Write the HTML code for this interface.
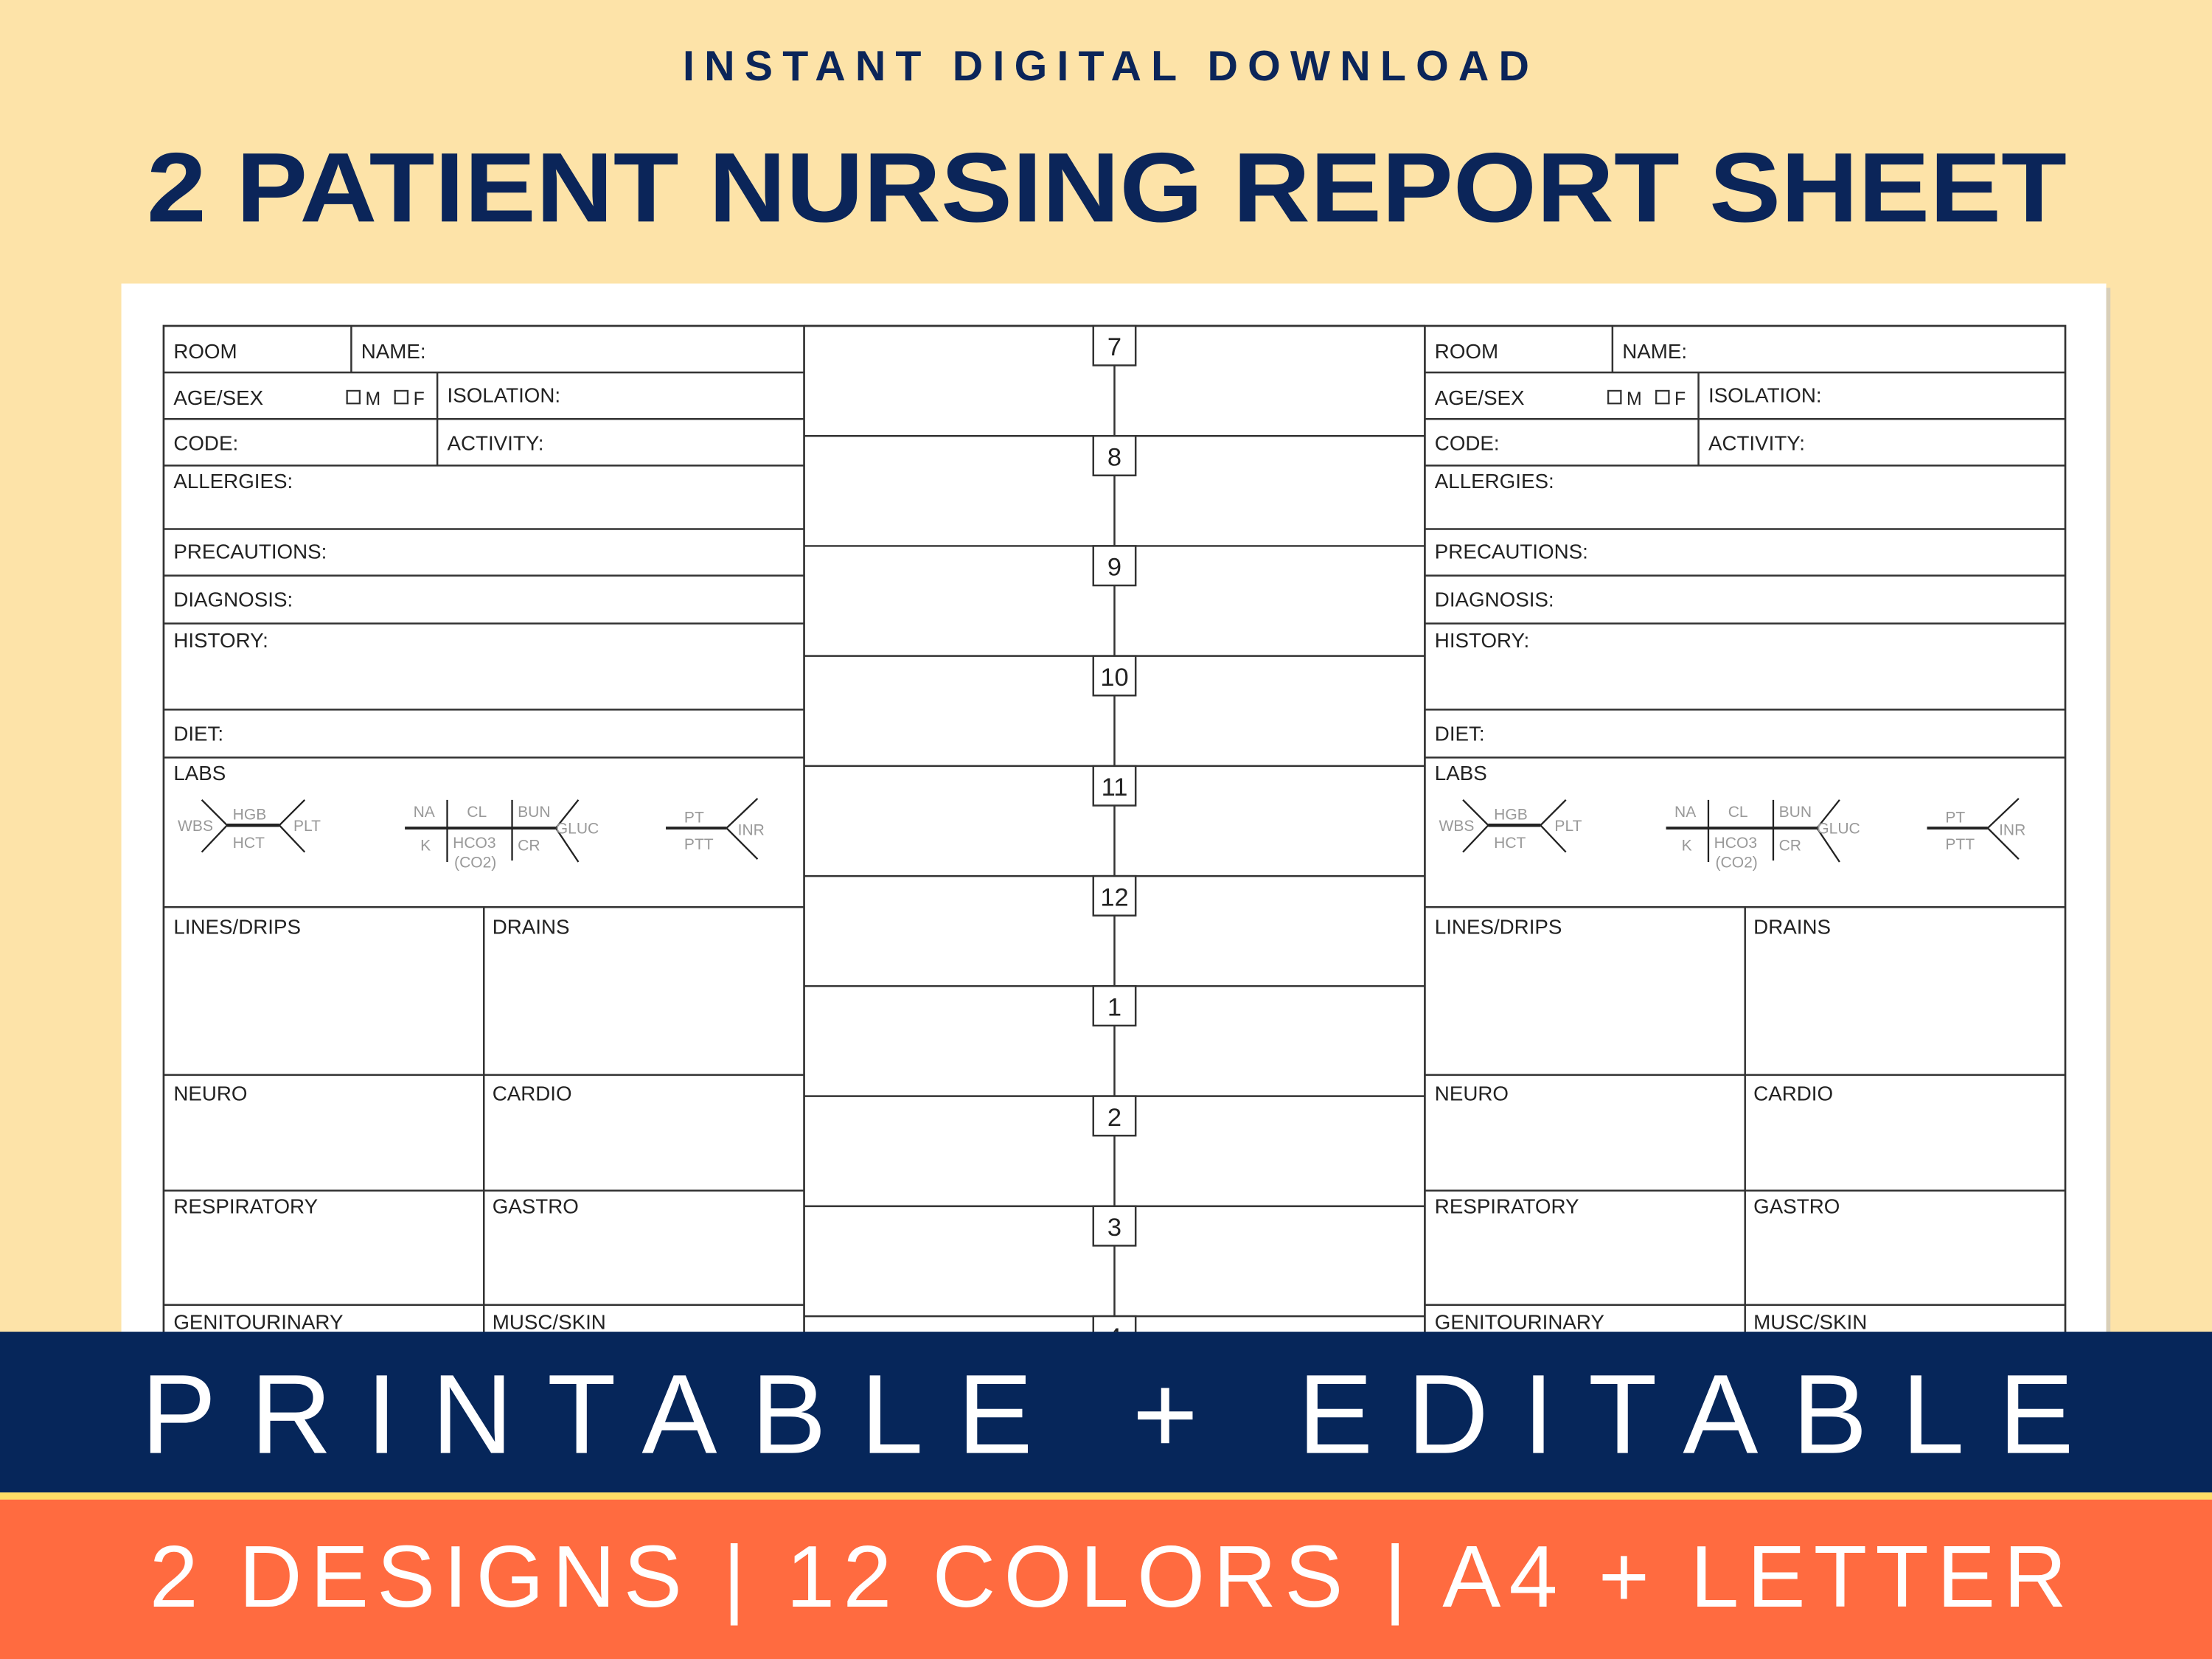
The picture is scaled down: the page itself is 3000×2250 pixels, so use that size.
<!DOCTYPE html>
<html><head><meta charset="utf-8"><style>
html,body{margin:0;padding:0;background:#FDE3A8;}
svg{display:block;}
text{font-family:"Liberation Sans",sans-serif;}
</style></head><body>
<svg id="root" width="3000" height="2250" viewBox="0 0 1568 1176" xmlns="http://www.w3.org/2000/svg">
<rect x="0" y="0" width="1568" height="1176" fill="#FDE3A8"/>
<text x="484" y="57" font-size="30" font-weight="bold" fill="#0B2559" textLength="600" lengthAdjust="spacing">INSTANT DIGITAL DOWNLOAD</text>
<text x="104" y="157" font-size="70" fill="#0B2559" font-weight="bold" textLength="1361" lengthAdjust="spacingAndGlyphs">2 PATIENT NURSING REPORT SHEET</text>
<rect x="89" y="204" width="1407" height="760" fill="#d9cfb8"/>
<rect x="86" y="201" width="1407" height="760" fill="#ffffff"/>
<g id="sheet"></g>
<rect x="0" y="944" width="1568" height="114" fill="#06265A"/>
<text x="100" y="1030" font-size="80" fill="#ffffff" textLength="1370" lengthAdjust="spacing">PRINTABLE + EDITABLE</text>
<rect x="0" y="1058" width="1568" height="5" fill="#FFDD66"/>
<rect x="0" y="1063" width="1568" height="113" fill="#FF6B40"/>
<text x="106" y="1139" font-size="62" fill="#ffffff" textLength="1359" lengthAdjust="spacing">2 DESIGNS | 12 COLORS | A4 + LETTER</text>
</svg>
<script>
var NS='http://www.w3.org/2000/svg';
var sheet=document.getElementById('sheet');
var hours=['7','8','9','10','11','12','1','2','3','4'];
function mk(tag,attrs,parent){var e=document.createElementNS(NS,tag);for(var k in attrs)e.setAttribute(k,attrs[k]);(parent||sheet).appendChild(e);return e;}
function line(x1,y1,x2,y2,p,w,c){return mk('line',{x1:x1,y1:y1,x2:x2,y2:y2,stroke:c||'#333','stroke-width':w||1.3},p);}
function txt(x,y,s,p,size,color){var t=mk('text',{x:x,y:y,'font-size':size||14,fill:color||'#222'},p);t.textContent=s;return t;}

function patient(dx,idx){
  var g=mk('g',{transform:'translate('+dx+',0)'});
  
  
  var L=116,R=570;
  mk('rect',{x:L,y:231,width:R-L,height:740,fill:'none',stroke:'#333','stroke-width':1.4},g);
  [264,297,330,375,408,442,503,537,643,762,844,925].forEach(function(y){line(L,y,R,y,g);});
  line(249,231,249,264,g);line(310,264,310,330,g);line(343,643,343,971,g);
  var labels=[['ROOM',123,254],['NAME:',256,254],['AGE/SEX',123,287],['ISOLATION:',317,285],['CODE:',123,319],['ACTIVITY:',317,319],
  ['ALLERGIES:',123,346],['PRECAUTIONS:',123,396],['DIAGNOSIS:',123,430],['HISTORY:',123,459],['DIET:',123,525],['LABS',123,553],
  ['LINES/DRIPS',123,662],['DRAINS',349,662],['NEURO',123,780],['CARDIO',349,780],['RESPIRATORY',123,860],['GASTRO',349,860],
  ['GENITOURINARY',123,942],['MUSC/SKIN',349,942]];
  labels.forEach(function(l){var t=txt(l[1],l[2],l[0],g,14.5);
    
    });
  var cm=mk('rect',{x:246,y:277,width:9,height:9,fill:'none',stroke:'#333','stroke-width':1.2},g);
  
  
  txt(259,287,'M',g,13);
  var cf=mk('rect',{x:280,y:277,width:9,height:9,fill:'none',stroke:'#333','stroke-width':1.2},g);
  
  
  txt(293,287,'F',g,13);
  var lg=mk('g',{},g);
  
  
  var c='#222',gr='#999';
  line(143,567,161,585,lg,1.2,c);line(161,585,143,604,lg,1.2,c);line(161,585,198,585,lg,2.4,c);
  line(216,567,198,585,lg,1.2,c);line(198,585,216,604,lg,1.2,c);
  txt(126,589,'WBS',lg,11,gr);txt(165,581,'HGB',lg,11,gr);txt(165,601,'HCT',lg,11,gr);txt(208,589,'PLT',lg,11,gr);
  line(287,587,394,587,lg,2,c);line(317,567,317,611,lg,1.2,c);line(363,567,363,610,lg,1.2,c);
  line(410,567,394,587,lg,1.2,c);line(394,587,410,611,lg,1.2,c);
  txt(293,579,'NA',lg,11,gr);txt(331,579,'CL',lg,11,gr);txt(367,579,'BUN',lg,11,gr);txt(394,591,'GLUC',lg,11,gr);
  txt(298,603,'K',lg,11,gr);txt(321,601,'HCO3',lg,11,gr);txt(322,615,'(CO2)',lg,11,gr);txt(367,603,'CR',lg,11,gr);
  line(472,587,515,587,lg,2,c);line(537,566,515,587,lg,1.2,c);line(515,587,537,609,lg,1.2,c);
  txt(485,583,'PT',lg,11,gr);txt(485,602,'PTT',lg,11,gr);txt(523,592,'INR',lg,11,gr);
}
patient(0,1);
patient(894,2);

var mg=mk('g',{});


var top0=231,step=78,cx=790;
line(570,231,1010,231,mg,1.4);
hours.forEach(function(h,i){
  var y=top0+i*step;
  line(570,y,1010,y,mg,1.3);
  var b=mk('rect',{x:cx-15,y:y,width:30,height:28,fill:'#fff',stroke:'#333','stroke-width':1.3},mg);
  
  
  var t=txt(cx,y+21,h,mg,18,'#222');
  t.setAttribute('text-anchor','middle');
  
  
  line(cx,y+28,cx,y+step,mg,1.3);
});
</script>
</body></html>
